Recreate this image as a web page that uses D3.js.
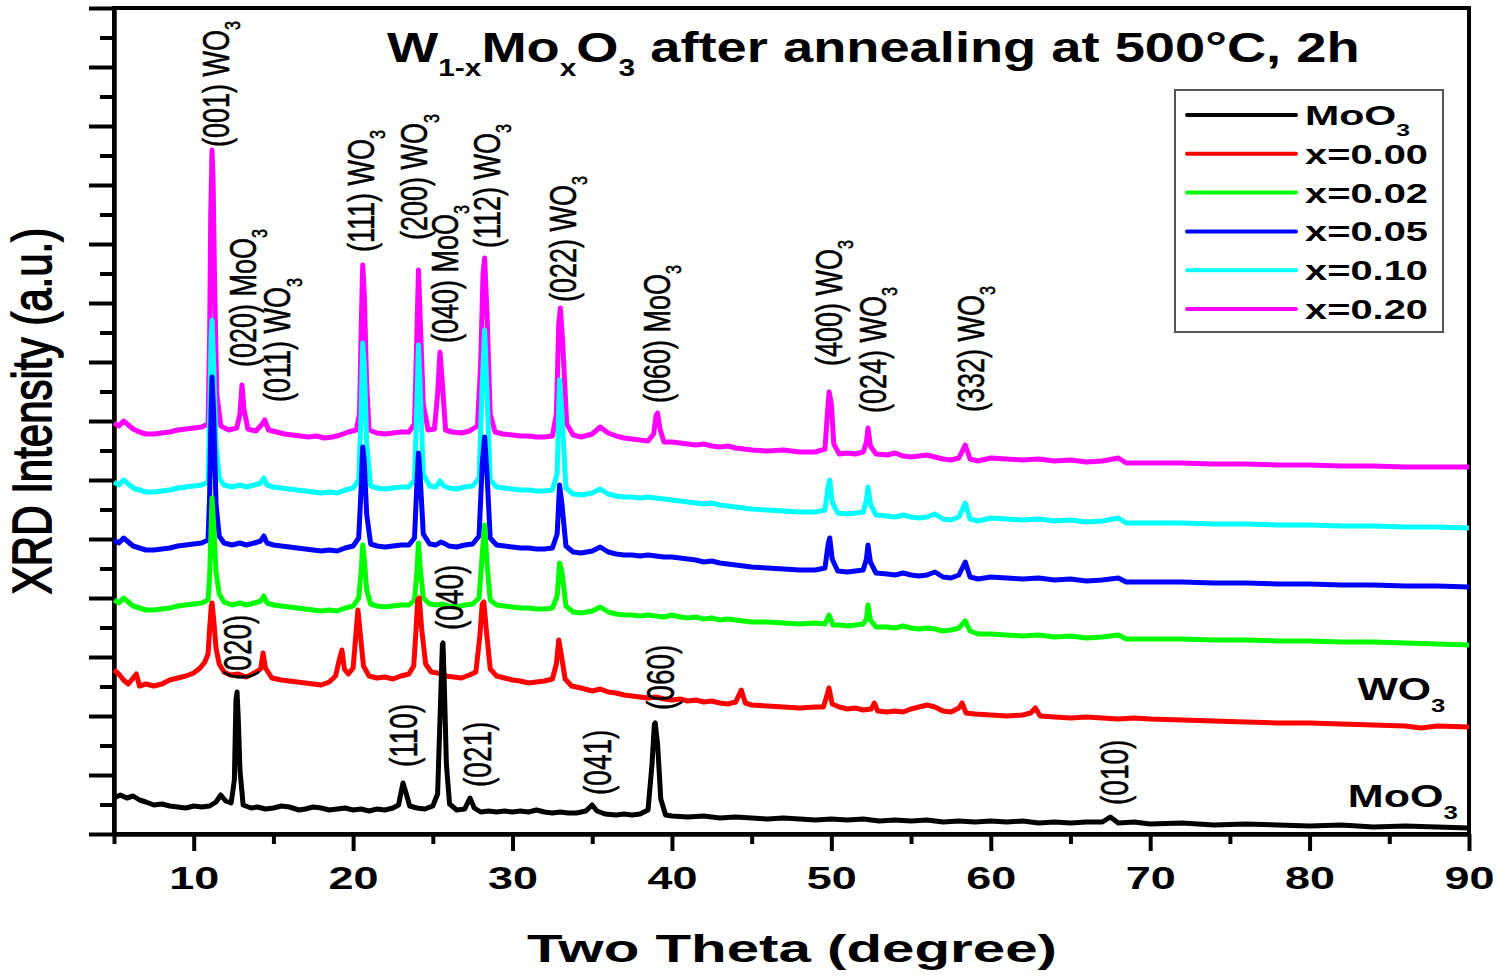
<!DOCTYPE html>
<html>
<head>
<meta charset="utf-8">
<script src="https://cdn.jsdelivr.net/npm/d3@7"></script>
<style>
    html, body { margin: 0; padding: 0; background: #fff; }
    svg { display: block; font-family: "Liberation Sans", Arial, sans-serif; }
    text { white-space: pre; }
</style>
</head>
<body>
<svg id="chart" width="1500" height="976"></svg>
<script>
// [2theta (deg), intensity (a.u., offset traces as plotted)]
const moo3 = [[5,36],[5.4,39],[5.8,36],[6.2,38],[6.6,34],[7,32],[7.5,29],[8,30],[8.5,28],[9,27],[9.5,26],[10,28],[10.5,27],[11,28],[11.4,32],[11.7,39],[12.0,33],[12.35,31],[12.55,54],[12.65,134],[12.72,142],[12.8,114],[12.9,64],[13.1,29],[13.6,26],[14,27],[14.5,25],[15,26],[15.5,28],[16,27],[16.6,24],[17,25],[17.5,27],[18,26],[18.5,24],[19,25],[19.5,26],[20,24],[20.5,25],[21,23],[21.5,25],[22,24],[22.5,26],[22.85,29],[23.0,41],[23.13,51],[23.3,42],[23.55,28],[24,26],[24.5,25],[25,28],[25.3,40],[25.48,130],[25.6,190],[25.64,191],[25.72,150],[25.85,70],[26.05,30],[26.5,24],[27,25],[27.33,36],[27.6,26],[28,22],[28.5,23],[29,22],[29.5,23],[30,22],[30.5,23],[31,22],[31.5,24],[32,22],[32.5,21],[33,22],[33.5,21],[34,21],[34.6,23],[34.99,29],[35.3,23],[35.8,20],[36.5,19],[37,20],[37.5,19],[38,20],[38.5,24],[38.75,70],[38.9,110],[38.95,111],[39.1,90],[39.3,35],[39.6,19],[40,18],[41,17],[42,18],[43,16],[44,17],[45,16],[46,15],[47,16],[48,15],[49,14],[50,15],[51,14],[52,15],[53,13],[54,14],[55,13],[56,14],[57,12],[58,13],[59,12],[60,13],[61,12],[62,13],[63,11],[64,12],[65,11],[66,12],[67,12],[67.5,17],[68,11],[69,12],[70,10],[72,11],[74,9],[76,10],[78,9],[80,8],[82,9],[84,7],[86,8],[88,7],[90,6]];

const x000 = [[5,164],[5.3,160],[5.6,154],[5.9,150],[6.2,156],[6.4,160],[6.6,148],[7,150],[7.5,148],[8,150],[8.5,154],[9,156],[9.5,158],[10,161],[10.4,166],[10.7,172],[10.9,180],[11.0,205],[11.1,228],[11.15,231],[11.25,215],[11.4,186],[11.6,170],[11.9,162],[12.3,159],[12.8,160],[13.3,157],[13.8,161],[14.2,165],[14.35,181],[14.5,166],[14.9,156],[15.5,154],[16,153],[16.5,152],[17,151],[17.5,150],[18,149],[18.5,152],[18.9,158],[19.1,172],[19.3,184],[19.45,165],[19.7,160],[20.0,166],[20.15,195],[20.3,224],[20.45,200],[20.65,168],[21,158],[21.5,156],[22,157],[22.5,155],[23,158],[23.5,160],[23.8,168],[23.95,205],[24.05,234],[24.15,236],[24.3,205],[24.55,170],[24.9,162],[25.3,161],[25.8,158],[26.3,157],[26.8,156],[27.3,159],[27.7,162],[27.95,198],[28.1,230],[28.2,232],[28.35,205],[28.6,165],[29,158],[29.5,156],[30,154],[30.5,153],[31,151],[31.5,152],[32,153],[32.5,155],[32.75,170],[32.9,194],[33.05,180],[33.3,155],[33.7,148],[34.3,146],[35,143],[35.5,145],[36,142],[36.5,141],[37,139],[37.5,138],[38,137],[38.5,136],[39,137],[39.5,135],[40,134],[40.5,135],[41,133],[41.5,134],[42,132],[42.5,133],[43,131],[43.5,130],[44,132],[44.35,144],[44.6,131],[45,129],[46,128],[47,127],[48,126],[49,127],[49.5,127],[49.75,140],[49.85,146],[50.05,130],[50.5,127],[51,125],[51.5,126],[52,124],[52.5,125],[52.7,131],[52.9,123],[53.5,122],[54,123],[54.5,122],[55,125],[55.5,127],[56,129],[56.5,127],[57,123],[57.5,122],[58,126],[58.2,131],[58.45,121],[59,120],[60,119],[61,118],[62,119],[62.5,121],[62.8,126],[63.1,118],[64,117],[65,116],[66,117],[67,116],[68,115],[69,116],[70,115],[72,114],[74,113],[76,112],[78,111],[80,111],[82,110],[84,109],[86,108],[87,106],[88,108],[90,107]];

const x002 = [[5,234],[5.3,231],[5.6,236],[5.9,232],[6.2,228],[6.6,226],[7,224],[7.5,224],[8,225],[8.5,226],[9,228],[9.5,229],[10,230],[10.5,231],[10.9,234],[11.0,258],[11.1,310],[11.15,336],[11.25,310],[11.4,262],[11.6,240],[11.9,232],[12.4,229],[12.9,231],[13.3,229],[13.8,231],[14.2,233],[14.4,238],[14.6,231],[15,229],[15.5,228],[16,227],[16.5,226],[17,225],[17.5,224],[18,223],[18.5,224],[19,223],[19.5,226],[20,228],[20.35,236],[20.5,262],[20.6,289],[20.7,275],[20.85,244],[21.1,230],[21.5,228],[22,227],[22.5,228],[23,229],[23.5,229],[23.85,234],[24.0,262],[24.1,291],[24.2,268],[24.4,236],[24.8,230],[25.2,229],[25.6,230],[26,228],[26.5,227],[27,229],[27.5,230],[27.9,236],[28.1,280],[28.25,309],[28.4,270],[28.6,234],[29,229],[29.5,228],[30,227],[30.5,226],[31,226],[31.5,225],[32,225],[32.5,226],[32.8,238],[32.95,271],[33.1,262],[33.35,228],[33.8,222],[34.3,221],[35,223],[35.5,227],[36,222],[36.5,220],[37,219],[37.5,219],[38,218],[38.5,219],[39,218],[39.5,217],[40,219],[40.5,217],[41,216],[41.5,217],[42,215],[42.5,216],[43,214],[43.5,215],[44,214],[44.5,213],[45,212],[46,212],[47,211],[48,210],[49,211],[49.6,210],[49.85,219],[50.1,209],[50.6,209],[51,208],[51.5,209],[52,210],[52.2,215],[52.3,229],[52.45,214],[52.8,207],[53.5,207],[54,206],[54.5,208],[55,206],[55.5,205],[56,206],[56.5,205],[57,203],[57.5,204],[58,206],[58.4,213],[58.7,203],[59.2,200],[60,200],[61,199],[62,198],[63,199],[64,197],[65,198],[66,196],[67,197],[68,199],[68.5,195],[70,195],[72,195],[74,194],[76,194],[78,193],[80,193],[82,192],[84,192],[86,191],[88,190],[90,189]];

const x005 = [[5,294],[5.3,291],[5.6,296],[5.9,292],[6.2,288],[6.6,286],[7,284],[7.5,284],[8,285],[8.5,286],[9,288],[9.5,289],[10,290],[10.5,291],[10.9,294],[11.0,340],[11.1,430],[11.15,457],[11.25,420],[11.4,330],[11.6,298],[11.9,291],[12.4,289],[12.9,291],[13.3,289],[13.8,291],[14.2,293],[14.4,298],[14.6,291],[15,289],[15.5,288],[16,287],[16.5,286],[17,285],[17.5,284],[18,283],[18.5,284],[19,283],[19.5,286],[20,288],[20.35,296],[20.5,345],[20.6,387],[20.7,372],[20.85,320],[21.1,290],[21.5,288],[22,287],[22.5,288],[23,289],[23.5,289],[23.85,296],[24.0,350],[24.1,381],[24.2,360],[24.4,300],[24.8,290],[25.2,289],[25.5,292],[25.8,290],[26,288],[26.5,287],[27,289],[27.5,290],[27.9,298],[28.1,370],[28.25,397],[28.4,360],[28.6,296],[29,289],[29.5,288],[30,287],[30.5,286],[31,286],[31.5,285],[32,285],[32.5,286],[32.8,300],[32.95,349],[33.1,330],[33.35,288],[33.8,282],[34.3,281],[35,283],[35.5,287],[36,282],[36.5,280],[37,279],[37.5,279],[38,278],[38.5,279],[39,278],[39.5,277],[40,277],[40.5,276],[41,275],[41.5,274],[42,272],[42.5,273],[43,271],[43.5,270],[44,269],[44.5,268],[45,267],[46,266],[47,265],[48,264],[49,264],[49.6,266],[49.8,290],[49.9,296],[50.05,275],[50.4,263],[51,262],[51.5,263],[52,264],[52.2,275],[52.3,289],[52.45,272],[52.8,261],[53.5,260],[54,259],[54.5,261],[55,259],[55.5,258],[56,259],[56.5,262],[57,257],[57.5,256],[58,259],[58.4,272],[58.7,257],[59.2,255],[60,257],[61,256],[62,255],[63,256],[64,254],[65,255],[66,253],[67,254],[68,256],[68.5,252],[70,252],[72,252],[74,251],[76,251],[78,250],[80,250],[82,249],[84,249],[86,248],[88,248],[90,247]];

const x010 = [[5,352],[5.3,349],[5.6,354],[5.9,350],[6.2,346],[6.6,344],[7,342],[7.5,342],[8,343],[8.5,344],[9,346],[9.5,347],[10,348],[10.5,349],[10.9,352],[11.0,420],[11.1,500],[11.15,514],[11.25,470],[11.4,390],[11.6,356],[11.9,349],[12.4,347],[12.9,349],[13.3,347],[13.8,349],[14.2,351],[14.4,356],[14.6,349],[15,347],[15.5,346],[16,345],[16.5,344],[17,343],[17.5,342],[18,341],[18.5,342],[19,341],[19.5,344],[20,346],[20.35,354],[20.5,420],[20.6,491],[20.7,470],[20.85,390],[21.1,348],[21.5,346],[22,345],[22.5,346],[23,347],[23.5,347],[23.85,354],[24.0,430],[24.1,489],[24.2,450],[24.4,360],[24.8,348],[25.2,347],[25.45,353],[25.7,348],[26,346],[26.5,345],[27,347],[27.5,348],[27.9,356],[28.1,450],[28.25,504],[28.4,440],[28.6,354],[29,347],[29.5,346],[30,345],[30.5,344],[31,344],[31.5,343],[32,343],[32.5,344],[32.8,360],[32.95,454],[33.1,420],[33.35,346],[33.8,340],[34.3,339],[35,341],[35.5,345],[36,340],[36.5,338],[37,337],[37.5,337],[38,336],[38.5,337],[39,336],[39.5,335],[40,334],[40.5,333],[41,332],[41.5,331],[42,330],[42.5,331],[43,329],[43.5,328],[44,327],[44.5,326],[45,325],[46,324],[47,323],[48,322],[49,322],[49.6,324],[49.8,348],[49.9,354],[50.05,332],[50.4,321],[51,320],[51.5,321],[52,322],[52.2,334],[52.3,347],[52.45,330],[52.8,319],[53.5,318],[54,317],[54.5,319],[55,317],[55.5,316],[56,317],[56.5,320],[57,315],[57.5,314],[58,317],[58.4,331],[58.7,315],[59.2,313],[60,316],[61,315],[62,314],[63,315],[64,313],[65,314],[66,312],[67,313],[68,316],[68.5,311],[70,311],[72,311],[74,310],[76,310],[78,309],[80,309],[82,308],[84,308],[86,307],[88,307],[90,306]];

const x020 = [[5,411],[5.3,408],[5.6,413],[5.9,409],[6.2,405],[6.6,402],[7,400],[7.5,400],[8,401],[8.5,402],[9,404],[9.5,405],[10,406],[10.5,407],[10.9,410],[11.0,500],[11.07,620],[11.15,684],[11.22,650],[11.3,560],[11.45,440],[11.7,408],[12.2,404],[12.7,406],[12.9,420],[13.03,449],[13.15,425],[13.4,405],[13.9,403],[14.3,410],[14.45,414],[14.7,404],[15.2,402],[15.7,400],[16.2,399],[16.7,398],[17.2,397],[17.7,398],[18.2,396],[18.7,397],[19.2,399],[19.7,402],[20.2,404],[20.4,420],[20.5,500],[20.6,569],[20.7,540],[20.85,450],[21.0,404],[21.5,401],[22,400],[22.5,401],[23,402],[23.5,402],[23.85,410],[24.0,500],[24.1,564],[24.2,520],[24.4,430],[24.7,404],[25.1,405],[25.3,440],[25.45,482],[25.6,450],[25.8,404],[26.2,402],[26.8,401],[27.3,403],[27.8,408],[28.0,470],[28.15,560],[28.25,576],[28.4,520],[28.6,420],[28.9,402],[29.4,400],[30,399],[30.5,398],[31,398],[31.5,397],[32,397],[32.5,398],[32.75,420],[32.9,510],[33.0,526],[33.15,490],[33.4,410],[33.8,399],[34.3,397],[35,400],[35.5,407],[36,401],[36.5,398],[37,396],[37.5,395],[38,394],[38.5,393],[38.85,400],[39.0,418],[39.1,421],[39.25,405],[39.5,392],[40,392],[40.5,391],[41,390],[41.5,389],[42,390],[42.5,388],[43,387],[43.5,388],[44,386],[44.5,385],[45,384],[46,383],[47,384],[48,382],[49,382],[49.6,385],[49.75,420],[49.86,442],[50.0,430],[50.15,390],[50.5,380],[51,381],[51.5,380],[52,382],[52.2,392],[52.3,406],[52.45,388],[52.8,380],[53.5,379],[54,381],[54.5,378],[55,377],[55.5,378],[56,379],[56.5,377],[57,375],[57.5,374],[58,376],[58.4,389],[58.7,375],[59.2,373],[60,376],[61,375],[62,374],[63,375],[64,373],[65,374],[66,372],[67,373],[68,376],[68.5,371],[70,371],[72,371],[74,370],[76,370],[78,369],[80,369],[82,368],[84,368],[86,367],[88,367],[90,367]];

const seriesNames = ["MoO_3", "x=0.00", "x=0.02", "x=0.05", "x=0.10", "x=0.20"];
const seriesData = [moo3, x000, x002, x005, x010, x020];
const seriesColors = ["#000000", "#ff0000", "#00ff00", "#0000ff", "#00ffff", "#ff00ff"];

const xMajor = [10, 20, 30, 40, 50, 60, 70, 80, 90];
const xMinor = [5, 15, 25, 35, 45, 55, 65, 75, 85];

// [label, 2theta, intensity at label bottom]
const phaseLabels = [
    ["(001) WO_3", 11.34, 687],
    ["(020) MoO_3", 13.03, 467],
    ["(011) WO_3", 15.2, 432],
    ["(111) WO_3", 20.43, 582],
    ["(200) WO_3", 23.8, 594],
    ["(040) MoO_3", 25.7, 491],
    ["(112) WO_3", 28.34, 586],
    ["(022) WO_3", 33.1, 532],
    ["(060) MoO_3", 39.0, 431],
    ["(400) WO_3", 49.8, 468],
    ["(024) WO_3", 52.55, 421],
    ["(332) WO_3", 58.7, 422]
];
const moo3Labels = [
    ["(020)", 12.72, 154],
    ["(110)", 23.13, 67],
    ["(040)", 26.0, 204],
    ["(021)", 27.77, 47],
    ["(041)", 35.3, 39],
    ["(060)", 39.25, 124],
    ["(010)", 67.7, 29]
];
const traceNames = [["WO_3", 83.0, 134], ["MoO_3", 82.4, 27]];

const titleText = "W_{1-x}Mo_xO_3 after annealing at 500°C, 2h";
const xTitle = "Two Theta (degree)";
const yTitle = "XRD Intensity (a.u.)";

const SX = 1.4; // the source picture is stretched horizontally

const svg = d3.select("#chart");
const x = d3.scaleLinear().domain([5, 90]).range([114, 1469]);
const y = d3.scaleLinear().domain([0, 826]).range([834, 8]);

function richText(sel, str, subScale, subDy) {
    const fs = +sel.attr("font-size");
    const re = /_\{([^}]*)\}|_(.)|([^_]+)/g;
    let m, down = false;
    while ((m = re.exec(str)) !== null) {
        const sub = m[1] !== undefined ? m[1] : m[2];
        if (sub !== undefined) {
            sel.append("tspan").attr("font-size", fs * subScale).attr("dy", down ? 0 : subDy).text(sub);
            down = true;
        } else {
            sel.append("tspan").attr("dy", down ? -subDy : 0).text(m[3]);
            down = false;
        }
    }
}

function fitX(sel, px, py, width) {
    const w = sel.node().getBBox().width;
    sel.attr("transform", `translate(${px},${py}) scale(${width / w},1)`);
}

// axes
function styleAxis(g) {
    g.selectAll("path.domain").attr("stroke", "#000").attr("stroke-width", 4);
    g.selectAll(".tick line").attr("stroke", "#000").attr("stroke-width", 4);
}

svg.append("g")
    .attr("transform", `translate(0,${y(0)})`)
    .call(d3.axisBottom(x).tickValues(xMinor).tickSize(10).tickSizeOuter(0).tickFormat(""))
    .call(styleAxis);

const gx = svg.append("g")
    .attr("transform", `translate(0,${y(0)})`)
    .call(d3.axisBottom(x).tickValues(xMajor).tickSize(17).tickPadding(16).tickSizeOuter(0).tickFormat(d3.format("d")))
    .call(styleAxis);
gx.selectAll(".tick text")
    .attr("font-size", 31).attr("font-weight", "bold").attr("fill", "#000")
    .attr("font-family", "Liberation Sans, Arial, sans-serif")
    .attr("transform", "scale(1.45,1)");

svg.append("g")
    .attr("transform", `translate(${x(5)},0)`)
    .call(d3.axisLeft(y).tickValues(d3.range(29.5, 826, 59)).tickSize(14).tickSizeOuter(0).tickFormat(""))
    .call(styleAxis);
svg.append("g")
    .attr("transform", `translate(${x(5)},0)`)
    .call(d3.axisLeft(y).tickValues(d3.range(0, 827, 59)).tickSize(25).tickSizeOuter(0).tickFormat(""))
    .call(styleAxis);

svg.append("rect")
    .attr("x", x(5)).attr("y", y(826))
    .attr("width", x(90) - x(5)).attr("height", y(0) - y(826))
    .attr("fill", "none").attr("stroke", "#000").attr("stroke-width", 4);

// traces, top one first so lower ones sit on top
const line = d3.line().x(d => x(d[0])).y(d => y(d[1]));
const gTraces = svg.append("g");
for (let i = seriesData.length - 1; i >= 0; i--) {
    gTraces.append("path")
        .datum(seriesData[i])
        .attr("d", line)
        .attr("fill", "none")
        .attr("stroke", seriesColors[i])
        .attr("stroke-width", 5)
        .attr("stroke-linejoin", "round");
}

// peak labels
function vLabel(str, deg, val, fs) {
    const t = svg.append("text")
        .attr("font-size", fs)
        .attr("fill", "#000")
        .attr("stroke", "#000").attr("stroke-width", 0.4)
        .attr("transform", `translate(${x(deg)},${y(val)}) scale(${SX},1) rotate(-90) translate(0,${0.36 * fs})`);
    richText(t, str, 0.6, 0.3 * fs);
}
phaseLabels.forEach(d => vLabel(d[0], d[1], d[2], 27));
moo3Labels.forEach(d => vLabel(d[0], d[1], d[2], 28));

traceNames.forEach(d => {
    const t = svg.append("text").attr("font-size", 31).attr("font-weight", "bold").attr("fill", "#000");
    richText(t, d[0], 0.6, 12);
    fitX(t, x(d[1]), y(d[2]), d[0] === "WO_3" ? 88 : 110);
});

// legend
const lg = svg.append("g");
lg.append("rect")
    .attr("x", 1175).attr("y", 90).attr("width", 268).attr("height", 242)
    .attr("fill", "#fff").attr("stroke", "#555").attr("stroke-width", 2);
seriesNames.forEach((name, i) => {
    const ly = 115 + i * 38.8;
    lg.append("line")
        .attr("x1", 1187).attr("x2", 1296).attr("y1", ly).attr("y2", ly)
        .attr("stroke", seriesColors[i]).attr("stroke-width", 4).attr("stroke-linecap", "round");
    const t = lg.append("text").attr("font-size", 28).attr("font-weight", "bold").attr("fill", "#000");
    richText(t, name, 0.6, 11);
    fitX(t, 1305, ly + 10, i === 0 ? 105 : 123);
});

// titles
const tt = svg.append("text").attr("font-size", 42).attr("font-weight", "bold").attr("fill", "#000");
richText(tt, titleText, 0.55, 14);
fitX(tt, 387, 62, 973);

const xt = svg.append("text").attr("font-size", 39).attr("font-weight", "bold").attr("fill", "#000")
    .attr("text-anchor", "middle").text(xTitle);
fitX(xt, 792, 962, 530);

svg.append("text")
    .attr("font-size", 42).attr("fill", "#000").attr("text-anchor", "middle")
    .attr("stroke", "#000").attr("stroke-width", 1.2)
    .attr("transform", `translate(31,411) scale(1.3,1) rotate(-90) translate(0,${0.36 * 42})`)
    .text(yTitle);
</script>
</body>
</html>
